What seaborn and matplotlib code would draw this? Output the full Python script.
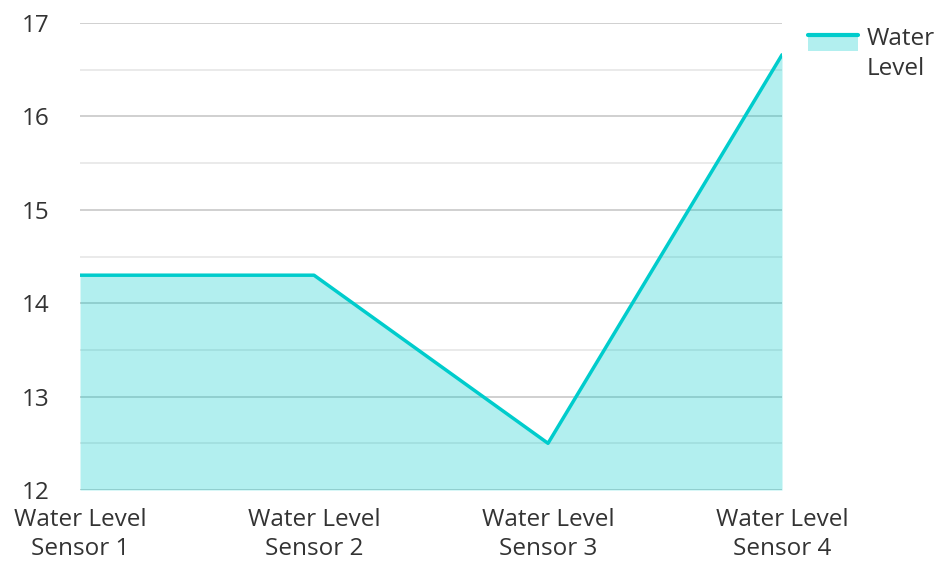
import matplotlib
matplotlib.use('Agg')
import matplotlib.pyplot as plt
from matplotlib.patches import Rectangle
from matplotlib.lines import Line2D
import seaborn as sns
import pandas as pd

sensors = ["Water Level\nSensor 1", "Water Level\nSensor 2", "Water Level\nSensor 3", "Water Level\nSensor 4"]
water_level = [14.3, 14.3, 12.5, 16.66]
y_ticks = [12, 13, 14, 15, 16, 17]

LINE = "#00cccc"
TEXT = "#333333"
FS = 17.5

sns.set_theme(style="white")
plt.rcParams['font.family'] = ['Open Sans', 'DejaVu Sans']


class AreaHandler:
    # legend key: filled box with the line along its top edge,
    # lifted to sit beside the first line of the label
    def legend_artist(self, legend, orig_handle, fontsize, handlebox):
        x0, y0 = handlebox.xdescent, handlebox.ydescent + 9
        w, h = handlebox.width, handlebox.height
        rect = Rectangle((x0, y0), w, h, facecolor=LINE, alpha=0.3, edgecolor="none",
                         transform=handlebox.get_transform())
        ln = Line2D([x0, x0 + w], [y0 + h, y0 + h], color=LINE, lw=3,
                    transform=handlebox.get_transform())
        handlebox.add_artist(rect)
        handlebox.add_artist(ln)
        return rect


df = pd.DataFrame({"pos": range(len(sensors)), "level": water_level})

fig = plt.figure(figsize=(9.37, 5.62), dpi=100)
ax = fig.add_axes([0.0854, 0.1281, 0.7492, 0.8309])

ax.set_yticks([v + 0.5 for v in y_ticks[:-1]], minor=True)
ax.grid(axis="y", which="major", color="#c8c8c8", lw=1.2)
ax.grid(axis="y", which="minor", color="#e6e6e6", lw=1.2)
ax.set_axisbelow(True)

ax.fill_between(df["pos"], 12, df["level"], color=LINE, alpha=0.3, lw=0, zorder=2)
sns.lineplot(data=df, x="pos", y="level", color=LINE, lw=2.5, ax=ax, zorder=3)

ax.set_xlim(0, 3)
ax.set_ylim(12, 17)
ax.set_xticks(df["pos"])
ax.set_xticklabels(sensors, linespacing=1.3)
ax.set_yticks(y_ticks)
ax.tick_params(axis="both", length=0, labelsize=FS, labelcolor=TEXT)
ax.tick_params(axis="y", pad=22)
ax.tick_params(axis="x", pad=13)
ax.set_xlabel("")
ax.set_ylabel("")
for s in ax.spines.values():
    s.set_visible(False)

leg = ax.legend(handles=[Rectangle((0, 0), 1, 1)], labels=["Water\nLevel"],
                handler_map={Rectangle: AreaHandler()},
                loc="upper right", bbox_to_anchor=(1.0, 0.956),
                bbox_transform=fig.transFigure, borderaxespad=0, borderpad=0.1,
                frameon=False, fontsize=FS, handlelength=2.05, handleheight=0.62,
                handletextpad=0.35, labelcolor=TEXT)
for t in leg.get_texts():
    t.set_linespacing(1.3)

fig.savefig("out.png", dpi=100)
